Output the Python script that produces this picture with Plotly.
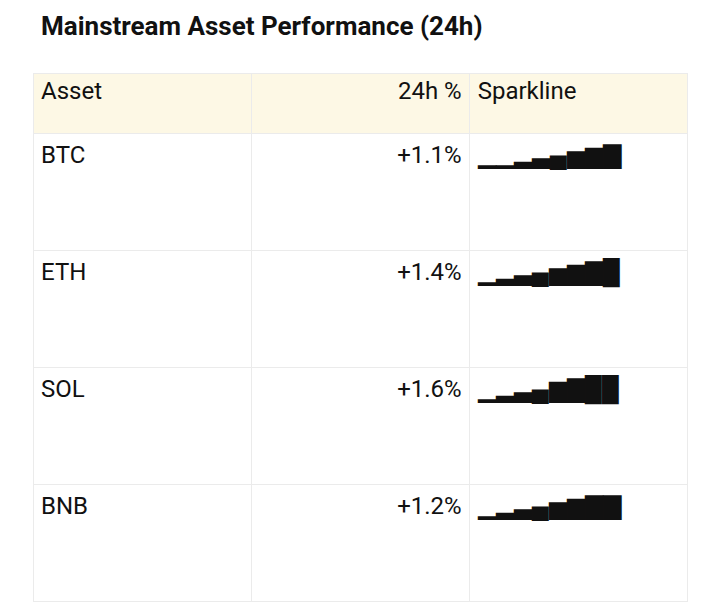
import plotly.graph_objects as go

assets = ["BTC", "ETH", "SOL", "BNB"]
change_24h = [1.1, 1.4, 1.6, 1.2]
# sparkline levels (1-8)
spark_btc = [1, 1, 2, 3, 4, 5, 6, 7]
spark_eth = [1, 2, 3, 4, 5, 6, 7, 8]
spark_sol = [1, 2, 3, 4, 6, 7, 8, 8]
spark_bnb = [1, 2, 3, 4, 5, 6, 7, 7]

BLOCKS = "▁▂▃▄▅▆▇█"


def to_spark(levels):
    return "".join(BLOCKS[v - 1] for v in levels)


# push the cell text down towards the bottom of each tall row
def pad(items):
    return ["<br><br>" + s for s in items]


sparks = [to_spark(s) for s in [spark_btc, spark_eth, spark_sol, spark_bnb]]
pct = ["+%.1f%%" % v for v in change_24h]

fig = go.Figure(go.Table(
    domain=dict(x=[25 / 720, 680 / 720], y=[0, 1]),
    columnwidth=[218, 218, 218],
    header=dict(
        values=["Asset", "24h %", "Sparkline"],
        align=["left", "right", "left"],
        fill_color="#fdf8e5",
        line_color="#ebebeb",
        height=60,
        font=dict(family="Roboto", size=24, color="#111"),
    ),
    cells=dict(
        values=[pad(assets), pad(pct), pad(sparks)],
        align=["left", "right", "left"],
        fill_color="white",
        line_color="#ebebeb",
        height=117,
        font=dict(family="Roboto", size=24, color="#111"),
    ),
))

fig.update_layout(
    width=720, height=603,
    margin=dict(l=0, r=0, t=65, b=0),
    paper_bgcolor="white",
    title=dict(text="<b>Mainstream Asset Performance (24h)</b>", x=33 / 720, xanchor="left",
               y=0.985, yanchor="top", font=dict(family="Roboto", size=26, color="#111")),
)

fig.write_html("out.html")
